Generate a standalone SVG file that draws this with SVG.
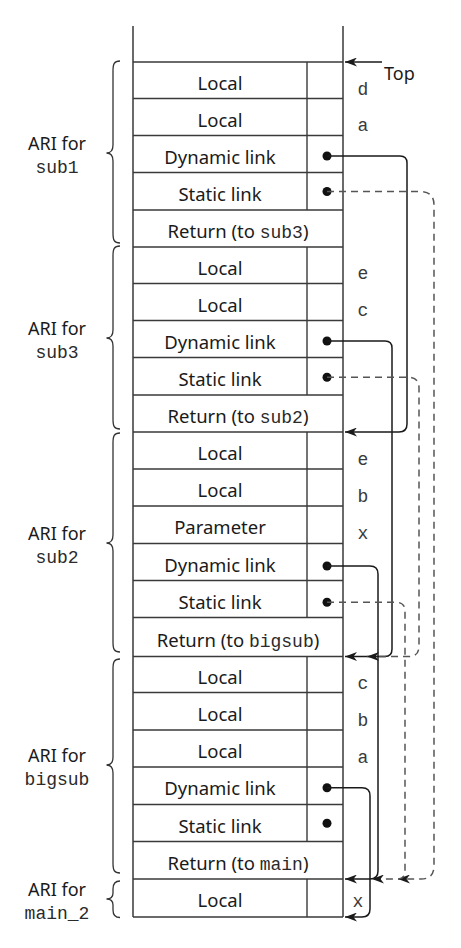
<svg xmlns="http://www.w3.org/2000/svg" width="461" height="948" viewBox="0 0 461 948">
<style>
.bg{fill:#fff}
.side{stroke:#6a6a6a;stroke-width:2;fill:none}
.hl{stroke:#3a3a3a;stroke-width:1.4;fill:none}
.cell{font-family:"Noto Sans","Open Sans",sans-serif;font-size:18.5px;fill:#1a1a1a;text-anchor:middle}
.mono{font-family:"Liberation Mono","DejaVu Sans Mono",monospace;font-size:18px;fill:#2a2a2a}
.name{font-family:"Liberation Mono","DejaVu Sans Mono",monospace;font-size:18px;fill:#3a3a3a;text-anchor:middle}
.lab{font-family:"Noto Sans","Open Sans",sans-serif;font-size:18px;fill:#1a1a1a;text-anchor:middle}
.labm{font-family:"Liberation Mono","DejaVu Sans Mono",monospace;font-size:18px;fill:#2a2a2a;text-anchor:middle}
.brace{stroke:#333;stroke-width:1.3;fill:none}
.dot{fill:#111}
.dyn{stroke:#1a1a1a;stroke-width:1.5;fill:none;marker-end:url(#ah)}
.sta{stroke:#555;stroke-width:1.5;fill:none;stroke-dasharray:7 5;marker-end:url(#ah)}
</style>
<defs>
<marker id="ah" markerUnits="userSpaceOnUse" markerWidth="13" markerHeight="9" refX="12" refY="4.5" orient="auto">
<path d="M0,0 L12,4.5 L0,9 L3.5,4.5 z" fill="#1a1a1a"/>
</marker>
</defs>
<rect class="bg" x="0" y="0" width="461" height="948"/>

<g id="stack">
<line class="side" x1="133" y1="26" x2="133" y2="917"/>
<line class="side" x1="343" y1="26" x2="343" y2="917"/>
<path class="hl" d="M133,62H343 M133,98.5H343 M133,135.5H343 M133,172.5H343 M133,210H343 M133,247H343 M133,283.5H343 M133,320.5H343 M133,357.5H343 M133,395H343 M133,432H343 M133,469H343 M133,506H343 M133,543.5H343 M133,580.5H343 M133,617.5H343 M133,656.5H343 M133,692.5H343 M133,730H343 M133,767H343 M133,804.5H343 M133,841.5H343 M133,879H343 M133,917H343"/>
<path class="hl" d="M307,62V210 M307,247V395 M307,432V617.5 M307,656.5V841.5 M307,879V917"/>
</g>

<g id="top">
<text class="lab" x="384" y="80" style="text-anchor:start">Top</text>
</g>

<g id="ari-sub1">
<path class="brace" d="M120,61 C114,61 113,64 113,71 V145 C113,150 111,153 106.5,153 C111,153 113,156 113,161 V233 C113,240 114,243 120,243"/>
<text class="lab" x="57" y="150">ARI for</text>
<text class="labm" x="57" y="173">sub1</text>
<text class="cell" x="220" y="89.5">Local</text>
<text class="cell" x="220" y="126.5">Local</text>
<text class="cell" x="220" y="163.5">Dynamic link</text>
<text class="cell" x="220" y="200.5">Static link</text>
<text class="cell" x="238" y="238">Return (to <tspan class="mono">sub3</tspan>)</text>
<text class="name" x="363" y="94.5">d</text>
<text class="name" x="363" y="131">a</text>
<circle class="dot" cx="327" cy="156" r="4.5"/>
<circle class="dot" cx="327" cy="191.5" r="4.5"/>
</g>

<g id="ari-sub3">
<path class="brace" d="M120,246 C114,246 113,249 113,256 V330 C113,335 111,338 106.5,338 C111,338 113,341 113,346 V419 C113,426 114,429 120,429"/>
<text class="lab" x="57" y="335">ARI for</text>
<text class="labm" x="57" y="358">sub3</text>
<text class="cell" x="220" y="274.5">Local</text>
<text class="cell" x="220" y="311.5">Local</text>
<text class="cell" x="220" y="348.5">Dynamic link</text>
<text class="cell" x="220" y="385.5">Static link</text>
<text class="cell" x="238" y="423">Return (to <tspan class="mono">sub2</tspan>)</text>
<text class="name" x="363" y="279">e</text>
<text class="name" x="363" y="316">c</text>
<circle class="dot" cx="327" cy="341" r="4.5"/>
<circle class="dot" cx="327" cy="377.3" r="4.5"/>
</g>

<g id="ari-sub2">
<path class="brace" d="M120,433 C114,433 113,436 113,443 V535 C113,540 111,543 106.5,543 C111,543 113,546 113,551 V642 C113,649 114,652 120,652"/>
<text class="lab" x="57" y="540">ARI for</text>
<text class="labm" x="57" y="563">sub2</text>
<text class="cell" x="220" y="460">Local</text>
<text class="cell" x="220" y="497">Local</text>
<text class="cell" x="220" y="534">Parameter</text>
<text class="cell" x="220" y="571.5">Dynamic link</text>
<text class="cell" x="220" y="608.5">Static link</text>
<text class="cell" x="238" y="647">Return (to <tspan class="mono">bigsub</tspan>)</text>
<text class="name" x="363" y="464.5">e</text>
<text class="name" x="363" y="501.5">b</text>
<text class="name" x="363" y="538.5">x</text>
<circle class="dot" cx="327" cy="566" r="4.5"/>
<circle class="dot" cx="327" cy="602.3" r="4.5"/>
</g>

<g id="ari-bigsub">
<path class="brace" d="M120,659 C114,659 113,662 113,669 V757 C113,762 111,765 106.5,765 C111,765 113,768 113,773 V863 C113,870 114,873 120,873"/>
<text class="lab" x="57" y="762">ARI for</text>
<text class="labm" x="57" y="785">bigsub</text>
<text class="cell" x="220" y="684">Local</text>
<text class="cell" x="220" y="721">Local</text>
<text class="cell" x="220" y="758">Local</text>
<text class="cell" x="220" y="795">Dynamic link</text>
<text class="cell" x="220" y="832.5">Static link</text>
<text class="cell" x="238" y="869.5">Return (to <tspan class="mono">main</tspan>)</text>
<text class="name" x="363" y="688.5">c</text>
<text class="name" x="363" y="725.5">b</text>
<text class="name" x="363" y="762.5">a</text>
<circle class="dot" cx="327" cy="787.7" r="4.5"/>
<circle class="dot" cx="327" cy="823.3" r="4.5"/>
</g>

<g id="ari-main_2">
<path class="brace" d="M120,881 C115,881 113,884 113,889 V893 C113,897 111,899 106.5,899 C111,899 113,901 113,905 V910 C113,915 115,917.5 120,917.5"/>
<text class="lab" x="57" y="896">ARI for</text>
<text class="labm" x="57" y="919">main_2</text>
<text class="cell" x="220" y="907">Local</text>
<text class="name" x="358" y="907">x</text>
</g>

<g id="connectors">
<path class="dyn" d="M382,62 H345"/>
<path class="dyn" d="M327,156 H400 Q407,156 407,163 V424 Q407,432 399,432 H345"/>
<path class="sta" d="M327,191.5 H420 Q434,191.5 434,205 V866 Q434,879 421,879 H398"/>
<path class="dyn" d="M327,341 H385 Q392,341 392,348 V649 Q392,656.5 385,656.5 H345"/>
<path class="sta" d="M327,377.3 H408 Q419,377.3 419,388 V646 Q419,656.5 409,656.5 H367"/>
<path class="dyn" d="M327,566 H370 Q378,566 378,574 V871 Q378,879 370,879 H345"/>
<path class="sta" d="M327,602.3 H396 Q405,602.3 405,611 V871 Q405,879 397,879 H372"/>
<path class="dyn" d="M327,787.7 H362 Q370,787.7 370,795.7 V909 Q370,917 362,917 H345"/>
</g>
</svg>
